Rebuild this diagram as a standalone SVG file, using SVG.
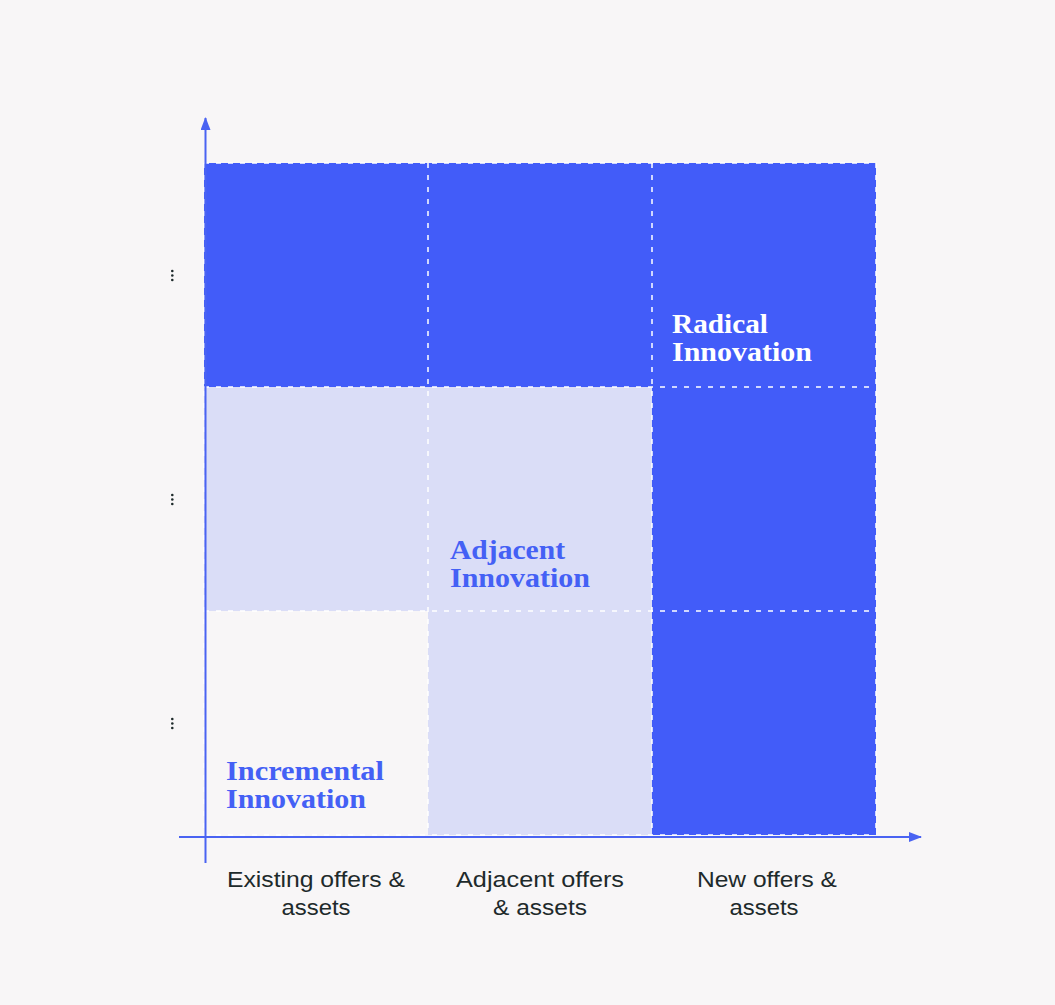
<svg xmlns="http://www.w3.org/2000/svg" width="1055" height="1005" viewBox="0 0 1055 1005">
<defs>
<style>
.dark{fill:#425CF9}
.light{fill:#DADDF7}
.grid{stroke:#FFFFFF;stroke-width:1.5;stroke-dasharray:5 7;fill:none}
.axis{stroke:#4A63F2;stroke-width:2;fill:none}
.title{font-family:"Liberation Serif","DejaVu Serif",serif;font-weight:bold;font-size:28px}
.tw{fill:#FFFFFF}
.tb{fill:#4460F5}
.lab{font-family:"Liberation Sans","DejaVu Sans",sans-serif;font-size:22px;fill:#1E2A2B;text-anchor:middle}
.dot{fill:#1E2A2B}
</style>
<marker id="ah" markerWidth="13" markerHeight="10" refX="12" refY="5" orient="auto" markerUnits="userSpaceOnUse">
<path d="M0,0 L13,5 L0,10 Z" fill="#4A63F2"/>
</marker>
</defs>
<rect width="1055" height="1005" fill="#F8F6F7"/>

<g id="cells">
<rect class="dark" x="204" y="163" width="224" height="224"/>
<rect class="dark" x="428" y="163" width="224" height="224"/>
<rect class="dark" x="652" y="163" width="224" height="224"/>
<rect class="light" x="204" y="387" width="224" height="224"/>
<rect class="light" x="428" y="387" width="224" height="224"/>
<rect class="dark" x="652" y="387" width="224" height="224"/>
<rect class="light" x="428" y="611" width="224" height="224"/>
<rect class="dark" x="652" y="611" width="224" height="224"/>
</g>

<g id="gridlines">
<path class="grid" d="M204,163 H876 M204,387 H876 M204,611 H876 M204,835 H876 M204,163 V835 M428,163 V835 M652,163 V835 M876,163 V835"/>
</g>

<g id="connectors">
<line class="axis" x1="205.5" y1="863" x2="205.5" y2="118" marker-end="url(#ah)"/>
<line class="axis" x1="179" y1="837" x2="921" y2="837" marker-end="url(#ah)"/>
</g>

<g id="y-ticks">
<circle class="dot" cx="172.3" cy="271" r="1.3"/><circle class="dot" cx="172.3" cy="275.5" r="1.3"/><circle class="dot" cx="172.3" cy="280" r="1.3"/>
<circle class="dot" cx="172.3" cy="495" r="1.3"/><circle class="dot" cx="172.3" cy="499.5" r="1.3"/><circle class="dot" cx="172.3" cy="504" r="1.3"/>
<circle class="dot" cx="172.3" cy="719" r="1.3"/><circle class="dot" cx="172.3" cy="723.5" r="1.3"/><circle class="dot" cx="172.3" cy="728" r="1.3"/>
</g>

<g id="radical">
<text class="title tw" x="672" y="333" textLength="96" lengthAdjust="spacingAndGlyphs">Radical</text>
<text class="title tw" x="672" y="361" textLength="140" lengthAdjust="spacingAndGlyphs">Innovation</text>
</g>
<g id="adjacent">
<text class="title tb" x="450" y="559" textLength="115" lengthAdjust="spacingAndGlyphs">Adjacent</text>
<text class="title tb" x="450" y="587" textLength="140" lengthAdjust="spacingAndGlyphs">Innovation</text>
</g>
<g id="incremental">
<text class="title tb" x="226" y="780" textLength="158" lengthAdjust="spacingAndGlyphs">Incremental</text>
<text class="title tb" x="226" y="808" textLength="140" lengthAdjust="spacingAndGlyphs">Innovation</text>
</g>

<g id="x-labels">
<text class="lab" x="316" y="887" textLength="178" lengthAdjust="spacingAndGlyphs">Existing offers &amp;</text>
<text class="lab" x="316" y="915" textLength="69" lengthAdjust="spacingAndGlyphs">assets</text>
<text class="lab" x="540" y="887" textLength="168" lengthAdjust="spacingAndGlyphs">Adjacent offers</text>
<text class="lab" x="540" y="915" textLength="94" lengthAdjust="spacingAndGlyphs">&amp; assets</text>
<text class="lab" x="767" y="887" textLength="140" lengthAdjust="spacingAndGlyphs">New offers &amp;</text>
<text class="lab" x="764" y="915" textLength="69" lengthAdjust="spacingAndGlyphs">assets</text>
</g>
</svg>
